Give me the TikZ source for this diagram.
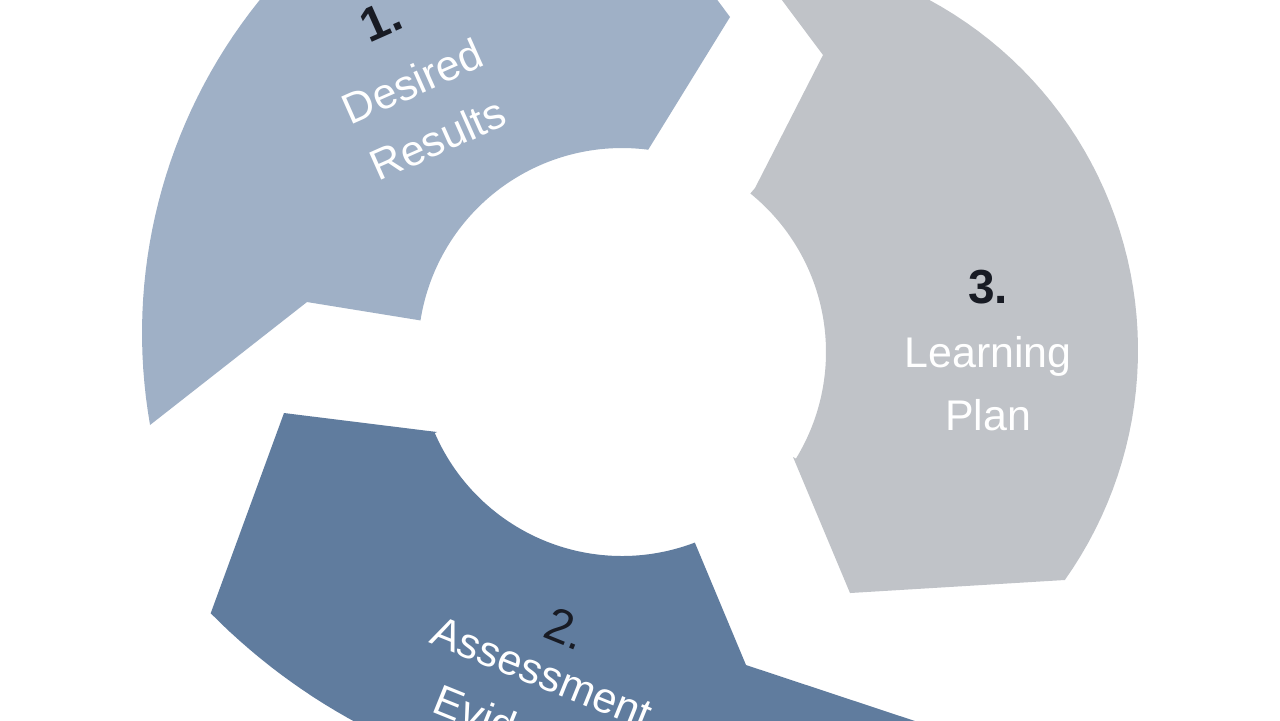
\documentclass[tikz,border=0pt]{standalone}
\usepackage{fontspec}
\setmainfont{Liberation Sans}
\definecolor{segA}{RGB}{159,176,198}
\definecolor{segB}{RGB}{96,124,158}
\definecolor{segC}{RGB}{192,195,200}
\definecolor{numcol}{RGB}{24,27,36}
\begin{document}
\begin{tikzpicture}[x=0.01cm,y=-0.01cm,
  lbl/.style={text=white,font=\fontsize{12.2}{17.9}\selectfont,align=center,inner sep=0pt},
  num/.style={text=numcol,font=\fontsize{13.6}{16}\selectfont\bfseries,inner sep=0pt},
  numthin/.style={text=numcol,font=\fontsize{13.6}{16}\selectfont,inner sep=0pt}]
\useasboundingbox (0,0) rectangle (1280,720);
\clip (0,0) rectangle (1280,720);
\fill[white] (0,0) rectangle (1280,720);
% segment 1
\fill[segA] (418,320) -- (307,302) -- (150,425)
  -- plot[domain=170:259.7,samples=60] ({672+530*cos(\x)},{333+530*sin(\x)})
  -- (730,17) -- (648,150)
  -- plot[domain=277.3:188.9,samples=60] ({622+204*cos(\x)},{352+204*sin(\x)}) -- cycle;
% segment 3
\fill[segC] (755,188) -- (823,55) -- (746,-48)
  -- plot[domain=-89.1:35.3,samples=60] ({740+398*cos(\x)},{350+398*sin(\x)})
  -- (850,593) -- (793,457)
  -- plot[domain=31.5:-51,samples=60] ({622+204*cos(\x)},{352+204*sin(\x)}) -- cycle;
% segment 2
\fill[segB] (695,543) -- (746,665) -- (933,727)
  -- plot[domain=62.6:135.4,samples=60] ({650+617*cos(\x)},{180+617*sin(\x)})
  -- (284,413) -- (437,432)
  -- plot[domain=156.6:69.1,samples=60] ({622+204*cos(\x)},{352+204*sin(\x)}) -- cycle;
% labels
\node[num,rotate=24] (n1) at (381,20) {1.};
\node[lbl,rotate=24] (t1) at (425,110) {Desired\\Results};
\node[num] (n3) at (988,287) {3.};
\node[lbl] (t3) at (988,384) {Learning\\Plan};
\node[numthin,rotate=-22] (n2) at (566,628) {2.};
\node[lbl,rotate=-22] (t2) at (530,702) {Assessment\\Evidence};
\end{tikzpicture}
\end{document}
